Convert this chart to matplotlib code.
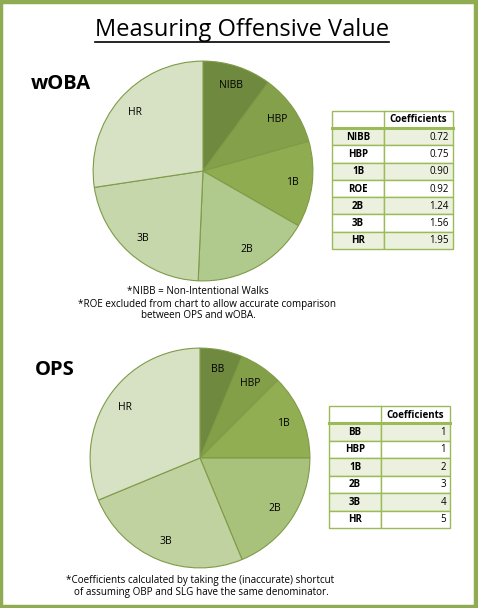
import matplotlib.pyplot as plt
from matplotlib.patches import Rectangle

# wOBA data (ROE kept in the table, left out of the pie)
woba_labels = ["NIBB", "HBP", "1B", "2B", "3B", "HR"]
woba_values = [0.72, 0.75, 0.90, 1.24, 1.56, 1.95]
woba_table_labels = ["NIBB", "HBP", "1B", "ROE", "2B", "3B", "HR"]
woba_table_values = ["0.72", "0.75", "0.90", "0.92", "1.24", "1.56", "1.95"]

# OPS data
ops_labels = ["BB", "HBP", "1B", "2B", "3B", "HR"]
ops_values = [1, 1, 2, 3, 4, 5]
ops_table_values = ["1", "1", "2", "3", "4", "5"]

woba_colors = ["#6f8a3f", "#84a04a", "#8fac50", "#b0c98c", "#c6d7ab", "#d7e2c4"]
ops_colors = ["#6f8a3f", "#83a049", "#91ae53", "#a8c27b", "#c0d2a0", "#d7e1c4"]

W, H = 478, 608
FONT = "Open Sans"
GREEN = "#9bbb59"
LIGHT = "#ebf1de"

fig = plt.figure(figsize=(W / 100, H / 100), dpi=100)
fig.patch.set_facecolor("white")


def pie_at(cx, cy, r, values, labels, colors):
    ax = fig.add_axes([(cx - r) / W, (H - cy - r) / H, 2 * r / W, 2 * r / H])
    ax.pie(values, labels=labels, colors=colors, startangle=90, counterclock=False,
           labeldistance=0.82, radius=1,
           wedgeprops=dict(edgecolor="#7f9b48", linewidth=0.8),
           textprops=dict(fontsize=7.5, family=FONT, ha="center", va="center"))
    for t in ax.texts:
        t.set_ha("center")
    ax.set_xlim(-1.01, 1.01)
    ax.set_ylim(-1.01, 1.01)
    ax.set_aspect("equal")
    ax.axis("off")


pie_at(203, 171, 111, woba_values, woba_labels, woba_colors)
pie_at(200, 458, 111, ops_values, ops_labels, ops_colors)

# overlay in pixel coordinates for text, tables and border
top = fig.add_axes([0, 0, 1, 1], zorder=5)
top.set_xlim(0, W)
top.set_ylim(H, 0)
top.axis("off")
top.patch.set_alpha(0)


def draw_table(x0, x1, xs, y0, row_h, labels, values, first_green=True):
    n = len(labels)
    # header
    top.add_patch(Rectangle((x0, y0), x1 - x0, 17, facecolor="white", edgecolor=GREEN, lw=1.0))
    top.text((xs + x1) / 2, y0 + 9, "Coefficients", fontsize=7, family=FONT,
             fontweight="bold", ha="center", va="center")
    yy = y0 + 17
    for i in range(n):
        green = (i % 2 == 0) == first_green
        fc = LIGHT if green else "white"
        top.add_patch(Rectangle((x0, yy), xs - x0, row_h, facecolor=fc, edgecolor=GREEN, lw=1.0))
        top.add_patch(Rectangle((xs, yy), x1 - xs, row_h, facecolor=fc, edgecolor=GREEN, lw=1.0))
        top.text((x0 + xs) / 2, yy + row_h / 2 + 0.5, labels[i], fontsize=7, family=FONT,
                 fontweight="bold", ha="center", va="center")
        top.text(x1 - 4, yy + row_h / 2 + 0.5, values[i], fontsize=7, family=FONT,
                 ha="right", va="center")
        yy += row_h
    top.plot([xs, xs], [y0, y0 + 17], color=GREEN, lw=1.0)
    top.plot([x0, x1], [y0 + 17, y0 + 17], color=GREEN, lw=2.2)


draw_table(332, 453, 384, 111, 121 / 7, woba_table_labels, woba_table_values)
draw_table(329, 450, 381, 406, 105 / 6, ops_labels, ops_table_values)

# title with underline
title = top.text(242, 30, "Measuring Offensive Value", fontsize=17, family=FONT,
                 ha="center", va="center")
fig.canvas.draw()
bb = title.get_window_extent()
top.plot([bb.x0, bb.x1], [42, 42], color="black", lw=1.2)

top.text(31, 84, "wOBA", fontsize=14.5, family=FONT, fontweight="bold", ha="left", va="center")
top.text(35, 370, "OPS", fontsize=14.5, family=FONT, fontweight="bold", ha="left", va="center")

notes = [
    (198, 292, "*NIBB = Non-Intentional Walks"),
    (207, 304, "*ROE excluded from chart to allow accurate comparison"),
    (198, 316, "between OPS and wOBA."),
    (200, 580, "*Coefficients calculated by taking the (inaccurate) shortcut"),
    (201, 593, "of assuming OBP and SLG have the same denominator."),
]
for x, y, s in notes:
    top.text(x, y, s, fontsize=7.1, family=FONT, ha="center", va="center")

# green frame
top.add_patch(Rectangle((1.5, 1.5), W - 3, H - 3, facecolor="none", edgecolor="#8fac52", lw=3.2))

fig.savefig("out.png", dpi=100)
